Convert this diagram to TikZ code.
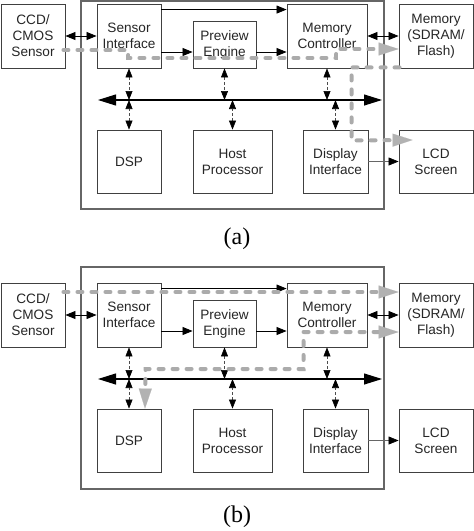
\documentclass[tikz,border=0pt]{standalone}
\usepackage{fontspec}
\setmainfont{Liberation Serif}
\setsansfont{Liberation Sans}
\usetikzlibrary{arrows.meta}
\tikzset{
  blk/.style={draw=black!75, line width=0.9pt, inner sep=0pt, align=center,
    font=\sffamily\fontsize{13.6}{16}\selectfont, text=black!85},
  outerbox/.style={draw=black!60, line width=1.3pt},
  conn/.style={draw=black, line width=0.8pt, -{Triangle[length=10pt,width=8pt]}},
  dconn/.style={draw=black, line width=0.8pt, {Triangle[length=10pt,width=8pt]}-{Triangle[length=10pt,width=8pt]}},
  vdbl/.style={draw=black!70, line width=0.6pt, densely dashed, {Triangle[length=9pt,width=7pt,color=black]}-{Triangle[length=9pt,width=7pt,color=black]}},
  busline/.style={draw=black, line width=1.1pt, {Triangle[length=18pt,width=11pt]}-{Triangle[length=18pt,width=11pt]}},
  lcdconn/.style={draw=black!60, line width=0.6pt, -{Triangle[length=10pt,width=8pt,color=black]}},
  gpath/.style={draw=black!33, line width=4pt, dash pattern=on 5pt off 9pt, line cap=round},
  gtip/.tip={Triangle[length=20pt,width=13pt,color=black!30,line width=0.1pt]},
  captext/.style={font=\rmfamily\fontsize{24}{26}\selectfont}
}
\newcommand\camblock[1]{%
  \node[blk, minimum width=64pt, minimum height=64pt] (ccd#1) at (33,36) {CCD/\\CMOS\\Sensor};
  \node[blk, minimum width=64pt, minimum height=64pt] (si#1) at (129,36) {Sensor\\Interface};
  \node[blk, minimum width=63pt, minimum height=47pt] (pe#1) at (224.5,44.5) {Preview\\Engine};
  \node[blk, minimum width=80pt, minimum height=64pt] (mc#1) at (327,36) {Memory\\Controller};
  \node[blk, minimum width=74pt, minimum height=64pt] (mem#1) at (436,36) {Memory\\(SDRAM/\\Flash)};
  \node[blk, minimum width=64pt, minimum height=63pt] (dsp#1) at (129,161.5) {DSP};
  \node[blk, minimum width=79pt, minimum height=63pt] (host#1) at (232.5,161.5) {Host\\Processor};
  \node[blk, minimum width=65pt, minimum height=63pt] (disp#1) at (335.5,161.5) {Display\\Interface};
  \node[blk, minimum width=74pt, minimum height=63pt] (lcd#1) at (436,161.5) {LCD\\Screen};
  \coordinate (busl#1) at (98,100);
  \coordinate (busr#1) at (382,100);
  \draw[busline] (busl#1) -- (busr#1);
  \draw[dconn] (ccd#1) -- (si#1);
  \draw[dconn] (mc#1) -- (mem#1);
  \draw[conn] ([yshift=-6pt]si#1.north east) -- ([yshift=-6pt]mc#1.north west);
  \draw[conn] ([yshift=-16pt]si#1.east) -- ([yshift=-7.5pt]pe#1.west);
  \draw[conn] ([yshift=-7.5pt]pe#1.east) -- ([yshift=-16pt]mc#1.west);
  \draw[lcdconn] (disp#1) -- (lcd#1);
  \draw[vdbl] (si#1.south) -- (si#1.south |- busl#1);
  \draw[vdbl] (pe#1.south) -- (pe#1.south |- busl#1);
  \draw[vdbl] (mc#1.south) -- (mc#1.south |- busl#1);
  \draw[vdbl] (dsp#1.north) -- (dsp#1.north |- busl#1);
  \draw[vdbl] (host#1.north) -- (host#1.north |- busl#1);
  \draw[vdbl] (disp#1.north) -- (disp#1.north |- busl#1);
}
\begin{document}
\begin{tikzpicture}[x=1pt, y=-1pt]
  \useasboundingbox[fill=white] (0,0) rectangle (474,531);
  % (a)
  \draw[outerbox] (81,1) rectangle (384,209);
  \camblock{A}
  \draw[gpath, -{gtip}] ([xshift=-2pt,yshift=-14pt]ccdA.east) -- ++(65,0) -- ++(0,8)
     -- ++(208,0) -- ++(0,-9) -- ([yshift=-13pt]memA.west);
  \draw[gpath, -{gtip}] ([xshift=1pt,yshift=1pt]memA.south west) -- ++(-48,0) -- ++(0,73)
     -- ([xshift=14pt,yshift=21.5pt]lcdA.west);
  \node[captext] (capA) at (237,239) {(a)};
  % (b)
  \draw[outerbox] (81,267) rectangle (384,489);
  \begin{scope}[shift={(0,279)}]
    \camblock{B}
  \end{scope}
  \draw[gpath, -{gtip}] ([xshift=-2pt,yshift=23pt]ccdB.east) -- ([yshift=23pt]memB.west);
  \draw[gpath, {gtip}-{gtip}] ([yshift=-17pt]memB.west) -- ++(-95,0) -- ++(0,37)
     -- ++(-158,0) -- ([xshift=16pt]dspB.north);
  \node[captext] (capB) at (237,517) {(b)};
\end{tikzpicture}
\end{document}
